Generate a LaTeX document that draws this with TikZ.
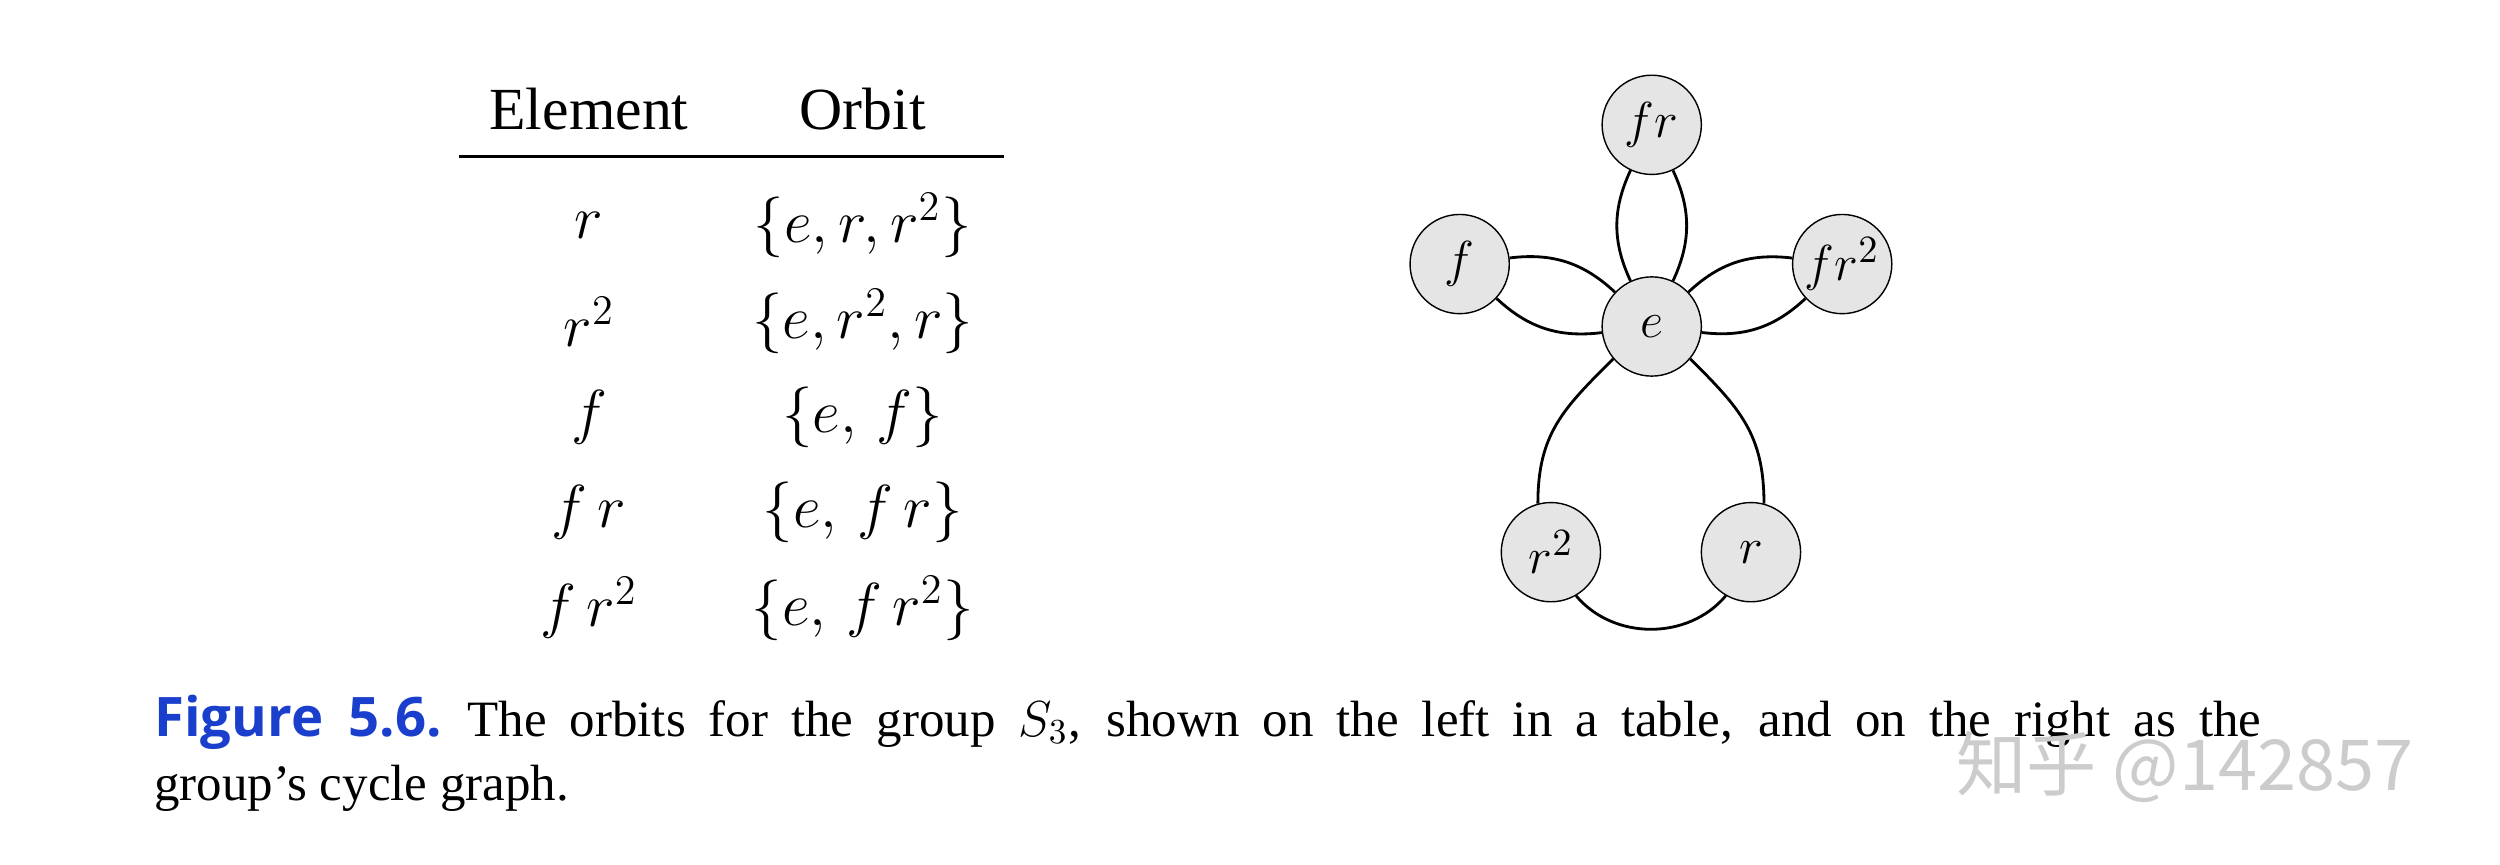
\documentclass[tikz,border=0pt]{standalone}
\usepackage{fontspec}
\setmainfont{Liberation Serif}
\newfontfamily\capsans{Open Sans}
\newfontfamily\cjk{Noto Sans CJK SC}
\begin{document}
\begin{tikzpicture}[x=0.016cm,y=-0.016cm,
  cell/.style={font=\fontsize{17}{20}\selectfont},
  gnode/.style={circle,draw,fill=gray!20,minimum size=62*0.016cm,inner sep=0pt,font=\fontsize{15}{18}\selectfont},
  edge/.style={line width=0.8pt}]
\useasboundingbox (0,0) rectangle (1562,540);
% table
\node[cell] (h1) at (368,68) {Element};
\node[cell] (h2) at (539,68) {Orbit};
\coordinate (rl) at (287,98); \coordinate (rr) at (627,98);
\draw[line width=0.8pt] (rl) -- (rr);
\node[cell] (a1) at (368,141) {$r$};
\node[cell] (b1) at (539,141) {$\{e,r,r^2\}$};
\node[cell] (a2) at (368,201) {$r^2$};
\node[cell] (b2) at (539,201) {$\{e,r^2,r\}$};
\node[cell] (a3) at (368,261) {$f$};
\node[cell] (b3) at (539,261) {$\{e,\,f\}$};
\node[cell] (a4) at (368,320) {$f\,r$};
\node[cell] (b4) at (539,320) {$\{e,\,f\,r\}$};
\node[cell] (a5) at (368,380) {$f\,r^2$};
\node[cell] (b5) at (539,380) {$\{e,\,f\,r^2\}$};
% graph
\node[gnode] (e) at (1032,204) {$e$};
\node[gnode] (fr) at (1032,78) {$fr$};
\node[gnode] (f) at (912,165) {$f$};
\node[gnode] (fr2) at (1151,165) {$fr^2$};
\node[gnode] (r2) at (969,345) {$r^2$};
\node[gnode] (r) at (1094,345) {$r$};
\draw[edge] (fr) to[bend left=25] (e);
\draw[edge] (fr) to[bend right=25] (e);
\draw[edge] (f) to[bend left=25] (e);
\draw[edge] (f) to[bend right=25] (e);
\draw[edge] (fr2) to[bend left=25] (e);
\draw[edge] (fr2) to[bend right=25] (e);
\draw[edge] (e.-40) to[out=-45,in=90,looseness=1.1] (r.75);
\draw[edge] (r.-120) to[out=-130,in=-50,looseness=1] (r2.-60);
\draw[edge] (r2.105) to[out=90,in=-135,looseness=1.1] (e.-140);
% caption
\node[anchor=base west,inner sep=0pt,font=\fontsize{14.5}{17}\selectfont] (c1) at (96,460)
  {\hbox to 21.07cm{{\capsans\bfseries\fontsize{15.5}{17}\selectfont\color[HTML]{1A3FCC}Figure 5.6.}\enspace The orbits for the group $S_3$, shown on the left in a table, and on the right as the}};
\node[anchor=base west,inner sep=0pt,font=\fontsize{14.5}{17}\selectfont] (c2) at (96,500) {group’s cycle graph.};
\node[anchor=base west,inner sep=0pt,text=gray!40,font=\cjk\fontsize{20}{22}\selectfont] (wm) at (1222,494) {知乎 @142857};
\end{tikzpicture}
\end{document}
